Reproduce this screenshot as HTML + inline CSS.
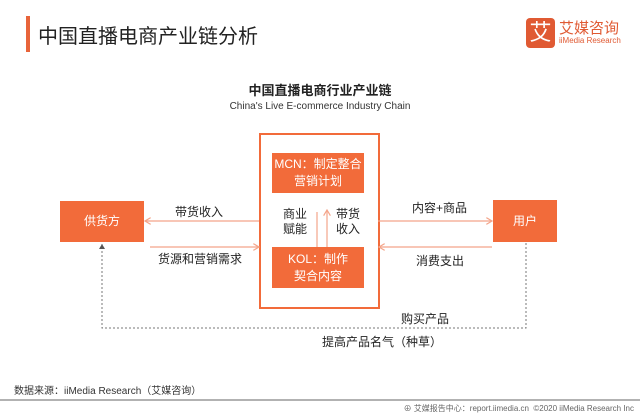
<!DOCTYPE html>
<html><head><meta charset="utf-8"><style>
body{margin:0;width:640px;height:416px;background:#fff;position:relative;overflow:hidden;font-family:"Liberation Sans","Noto Sans CJK SC",sans-serif;color:#222}
.a{position:absolute;white-space:nowrap}
.box{position:absolute;background:#f26b3a;color:#fff;display:flex;align-items:center;justify-content:center;text-align:center;font-size:12px;line-height:17px}
.l{font-size:12px;line-height:15px}
</style></head><body>
<div class="a" style="left:26px;top:16px;width:4px;height:36px;background:#e8643a"></div>
<div class="a" style="left:38px;top:20px;font-size:20px;color:#222">中国直播电商产业链分析</div>
<div class="a" style="left:526px;top:18px;width:29px;height:30px;background:#e05a33;border-radius:4px;color:#fff;font-size:22px;line-height:30px;text-align:center">艾</div>
<div class="a" style="left:559px;top:17px;font-size:15px;color:#e05a33">艾媒咨询</div>
<div class="a" style="left:559px;top:36px;font-size:8px;color:#e05a33">iiMedia Research</div>
<div class="a" style="left:0;width:640px;top:80px;text-align:center;font-size:13px;font-weight:bold;color:#222">中国直播电商行业产业链</div>
<div class="a" style="left:0;width:640px;top:101px;text-align:center;font-size:10px;color:#333">China's Live E-commerce Industry Chain</div>
<div class="a" style="left:259px;top:133px;width:117px;height:172px;border:2px solid #f26b3a"></div>
<div class="box" style="left:272px;top:153px;width:92px;height:40px">MCN：制定整合<br>营销计划</div>
<div class="box" style="left:272px;top:247px;width:92px;height:41px">KOL：制作<br>契合内容</div>
<div class="box" style="left:60px;top:201px;width:84px;height:41px">供货方</div>
<div class="box" style="left:493px;top:200px;width:64px;height:42px">用户</div>
<svg class="a" style="left:0;top:0" width="640" height="416">
<defs><marker id="m" markerWidth="6" markerHeight="6" refX="5" refY="3" orient="auto"><path d="M0,0L5,3L0,6" fill="none" stroke="#f4a58a" stroke-width="1"/></marker>
<marker id="d" markerWidth="6" markerHeight="6" refX="5" refY="3" orient="auto"><path d="M0,0L5,3L0,6Z" fill="#555"/></marker></defs>
<g stroke="#f4a58a" stroke-width="1.2" fill="none">
<line x1="259" y1="221" x2="145" y2="221" marker-end="url(#m)"/>
<line x1="150" y1="247" x2="259" y2="247" marker-end="url(#m)"/>
<line x1="378" y1="221" x2="492" y2="221" marker-end="url(#m)"/>
<line x1="492" y1="247" x2="379" y2="247" marker-end="url(#m)"/>
<line x1="317" y1="212" x2="317" y2="247"/>
<line x1="327" y1="247" x2="327" y2="210" marker-end="url(#m)"/>
</g>
<path d="M526,243V328H102V244" fill="none" stroke="#777" stroke-dasharray="2,2" stroke-width="1" marker-end="url(#d)"/>
<line x1="0" y1="400" x2="640" y2="400" stroke="#999" stroke-width="1.5"/>
</svg>
<div class="a l" style="left:175px;top:205px">带货收入</div>
<div class="a l" style="left:158px;top:252px">货源和营销需求</div>
<div class="a l" style="left:412px;top:201px">内容+商品</div>
<div class="a l" style="left:416px;top:254px">消费支出</div>
<div class="a l" style="left:283px;top:207px">商业<br>赋能</div>
<div class="a l" style="left:336px;top:207px">带货<br>收入</div>
<div class="a l" style="left:401px;top:312px">购买产品</div>
<div class="a l" style="left:322px;top:335px">提高产品名气（种草）</div>
<div class="a" style="left:14px;top:382px;font-size:10px;color:#333">数据来源：iiMedia Research（艾媒咨询）</div>
<div class="a" style="right:6px;top:403px;font-size:8px;color:#666">⊕ 艾媒报告中心：report.iimedia.cn &nbsp;©2020 iiMedia Research Inc</div>
</body></html>
